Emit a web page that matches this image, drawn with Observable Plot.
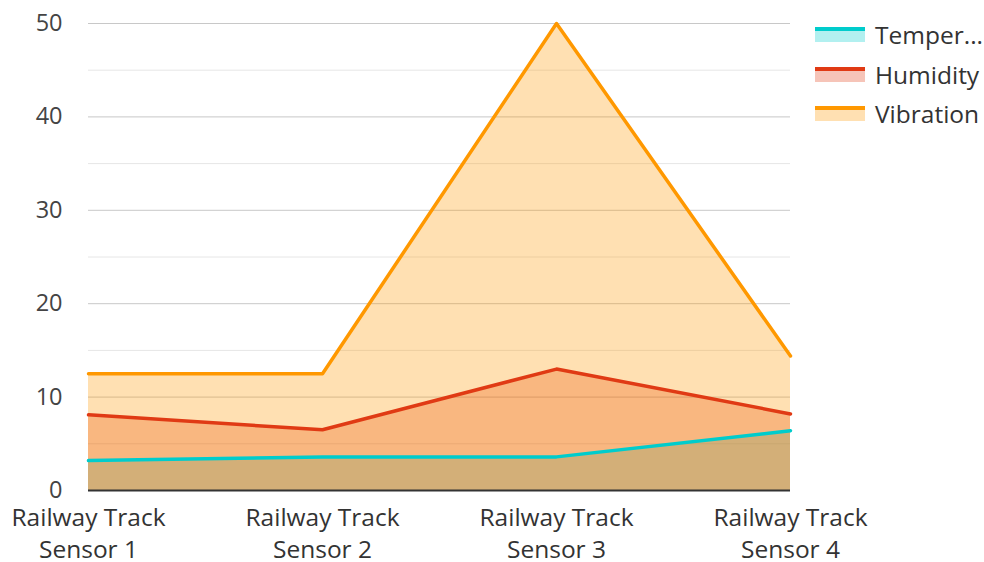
<!DOCTYPE html>
<html>
<head>
<meta charset="utf-8">
<script src="https://cdn.jsdelivr.net/npm/d3@7"></script>
<script src="https://cdn.jsdelivr.net/npm/@observablehq/plot@0.6"></script>
<style>
  body { margin: 0; background: #fff; font-family: "Open Sans", sans-serif; }
  #wrap { position: relative; width: 984px; height: 562px; }
  #legend { position: absolute; left: 815px; top: 15px; font-size: 24.5px; color: #333; }
  .item { display: flex; align-items: center; height: 39.5px; }
  .sw { width: 50px; height: 15px; margin-right: 10px; box-sizing: border-box; }
</style>
</head>
<body>
<div id="wrap"><div id="legend"></div></div>
<script>
const categories = ["Railway Track Sensor 1", "Railway Track Sensor 2", "Railway Track Sensor 3", "Railway Track Sensor 4"];
const seriesNames = ["Temperature", "Humidity", "Vibration"];
const legendLabels = ["Temper...", "Humidity", "Vibration"];
const temperature = [3.2, 3.6, 3.6, 6.4];
const humidity = [8.1, 6.5, 13, 8.2];
const vibration = [12.5, 12.5, 50, 14.4];
const colors = ["#00CCCC", "#E03A14", "#FF9800"];
const majorTicks = [0, 10, 20, 30, 40, 50];
const minorTicks = [5, 15, 25, 35, 45];

const valuesBySeries = [temperature, humidity, vibration];
const table = [];
seriesNames.forEach((name, s) => {
  categories.forEach((c, i) => table.push({series: name, cat: c, value: valuesBySeries[s][i], idx: s}));
});
const order = [0, 1, 2];

const chart = Plot.plot({
  width: 984,
  height: 562,
  marginLeft: 88,
  marginRight: 194,
  marginTop: 23,
  marginBottom: 72,
  style: {fontFamily: "Open Sans, sans-serif", fontSize: "23px", color: "#444", background: "#fff"},
  x: {type: "point", domain: categories, padding: 0, axis: null, label: null},
  y: {domain: [0, 50], axis: null, label: null},
  marks: [
    Plot.ruleY(minorTicks, {stroke: "#e6e6e6", strokeWidth: 1}),
    Plot.ruleY(majorTicks.filter(d => d > 0), {stroke: "#c8c8c8", strokeWidth: 1}),
    ...order.map(s => Plot.areaY(table.filter(d => d.idx === s), {x: "cat", y: "value", fill: colors[s], fillOpacity: 0.3})),
    ...order.map(s => Plot.lineY(table.filter(d => d.idx === s), {x: "cat", y: "value", stroke: colors[s], strokeWidth: 3.5})),
    Plot.ruleY([0], {stroke: "#333", strokeWidth: 2}),
    Plot.axisY(majorTicks, {tickSize: 0, tickPadding: 26, fontSize: 23.5, fill: "#444", label: null}),
    Plot.axisX(categories, {tickSize: 0, tickPadding: 13, fontSize: 24.5, fill: "#333", lineHeight: 1.3, label: null,
      tickFormat: d => d.replace(" Sensor", "\nSensor")})
  ]
});
document.getElementById("wrap").prepend(chart);

const legend = document.getElementById("legend");
legendLabels.forEach((l, i) => {
  const item = document.createElement("div");
  item.className = "item";
  const sw = document.createElement("div");
  sw.className = "sw";
  sw.style.borderTop = `4px solid ${colors[i]}`;
  sw.style.background = d3.color(colors[i]).copy({opacity: 0.3}).toString();
  const t = document.createElement("span");
  t.textContent = l;
  item.append(sw, t);
  legend.append(item);
});
</script>
</body>
</html>
